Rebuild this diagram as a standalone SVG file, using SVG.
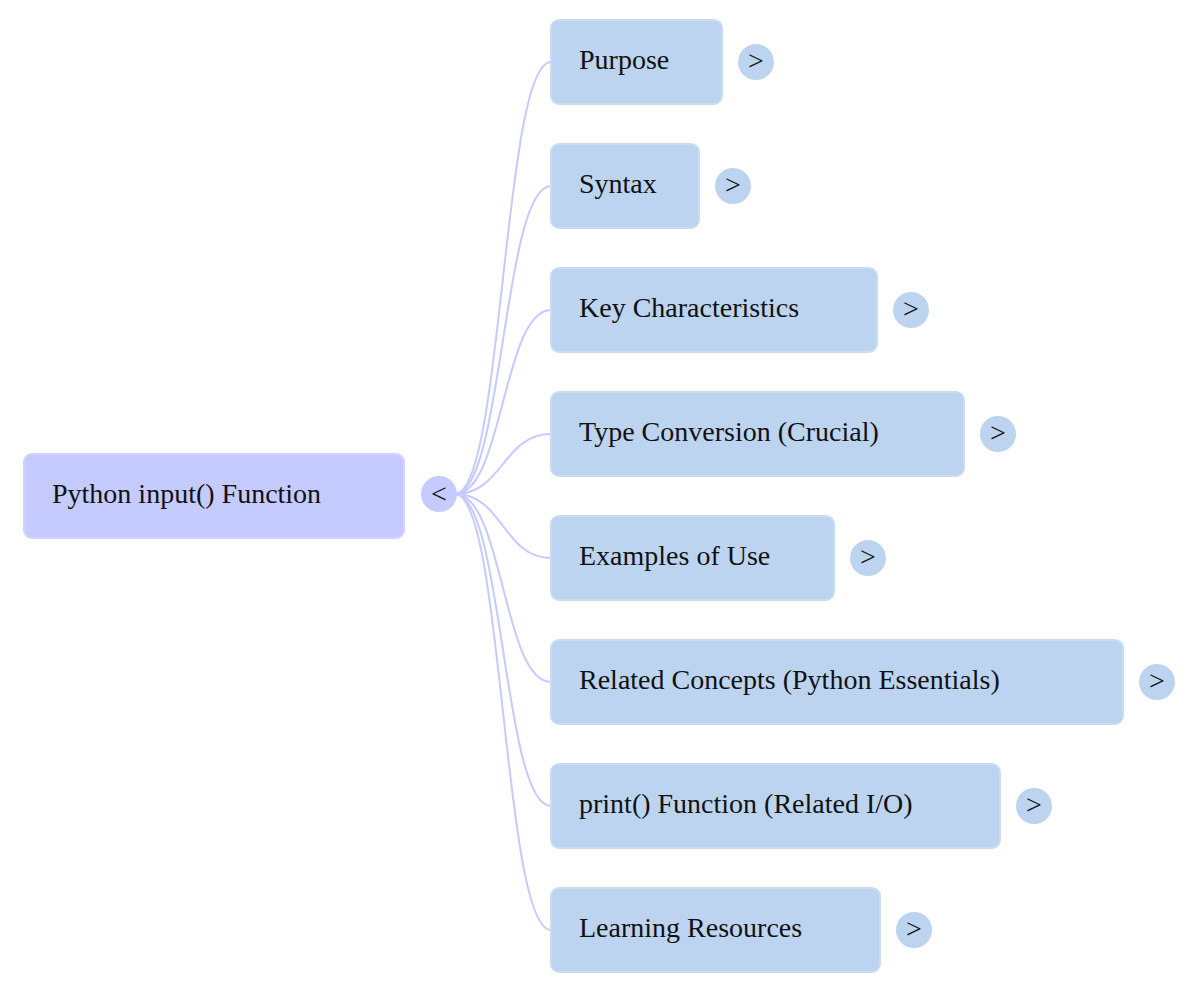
<svg xmlns="http://www.w3.org/2000/svg" width="1200" height="993" viewBox="0 0 1200 993">
<style>
.n{fill:#bcd4f0;stroke:#c9dcf3;stroke-width:2}
.r{fill:#c5caff;stroke:#cfd3ff;stroke-width:2}
.c{fill:#bcd4f0}
t,text{font-family:"Liberation Serif",serif;font-size:28px;fill:#111}
.l{fill:none;stroke:#c5caff;stroke-width:2}
</style>
<rect width="1200" height="993" fill="#fff"/>
<g id="connectors">
<path class="l" d="M455 494 C503 494 503 62 551 62"/>
<path class="l" d="M455 494 C503 494 503 186 551 186"/>
<path class="l" d="M455 494 C503 494 503 310 551 310"/>
<path class="l" d="M455 494 C503 494 503 434 551 434"/>
<path class="l" d="M455 494 C503 494 503 558 551 558"/>
<path class="l" d="M455 494 C503 494 503 682 551 682"/>
<path class="l" d="M455 494 C503 494 503 806 551 806"/>
<path class="l" d="M455 494 C503 494 503 930 551 930"/>
</g>
<g id="root"><rect class="r" x="24" y="454" width="380" height="84" rx="8"/><text x="52" y="503">Python input() Function</text>
<circle cx="439" cy="494" r="18" fill="#c5caff"/><text x="439" y="503" text-anchor="middle">&lt;</text></g>
<g id="n1"><rect class="n" x="551" y="20" width="171" height="84" rx="8"/><text x="579" y="69">Purpose</text><circle class="c" cx="756" cy="62" r="18"/><text x="756" y="70" text-anchor="middle">&gt;</text></g>
<g id="n2"><rect class="n" x="551" y="144" width="148" height="84" rx="8"/><text x="579" y="193">Syntax</text><circle class="c" cx="733" cy="186" r="18"/><text x="733" y="194" text-anchor="middle">&gt;</text></g>
<g id="n3"><rect class="n" x="551" y="268" width="326" height="84" rx="8"/><text x="579" y="317">Key Characteristics</text><circle class="c" cx="911" cy="310" r="18"/><text x="911" y="318" text-anchor="middle">&gt;</text></g>
<g id="n4"><rect class="n" x="551" y="392" width="413" height="84" rx="8"/><text x="579" y="441">Type Conversion (Crucial)</text><circle class="c" cx="998" cy="434" r="18"/><text x="998" y="442" text-anchor="middle">&gt;</text></g>
<g id="n5"><rect class="n" x="551" y="516" width="283" height="84" rx="8"/><text x="579" y="565">Examples of Use</text><circle class="c" cx="868" cy="558" r="18"/><text x="868" y="566" text-anchor="middle">&gt;</text></g>
<g id="n6"><rect class="n" x="551" y="640" width="572" height="84" rx="8"/><text x="579" y="689">Related Concepts (Python Essentials)</text><circle class="c" cx="1157" cy="682" r="18"/><text x="1157" y="690" text-anchor="middle">&gt;</text></g>
<g id="n7"><rect class="n" x="551" y="764" width="449" height="84" rx="8"/><text x="579" y="813">print() Function (Related I/O)</text><circle class="c" cx="1034" cy="806" r="18"/><text x="1034" y="814" text-anchor="middle">&gt;</text></g>
<g id="n8"><rect class="n" x="551" y="888" width="329" height="84" rx="8"/><text x="579" y="937">Learning Resources</text><circle class="c" cx="914" cy="930" r="18"/><text x="914" y="938" text-anchor="middle">&gt;</text></g>
</svg>
